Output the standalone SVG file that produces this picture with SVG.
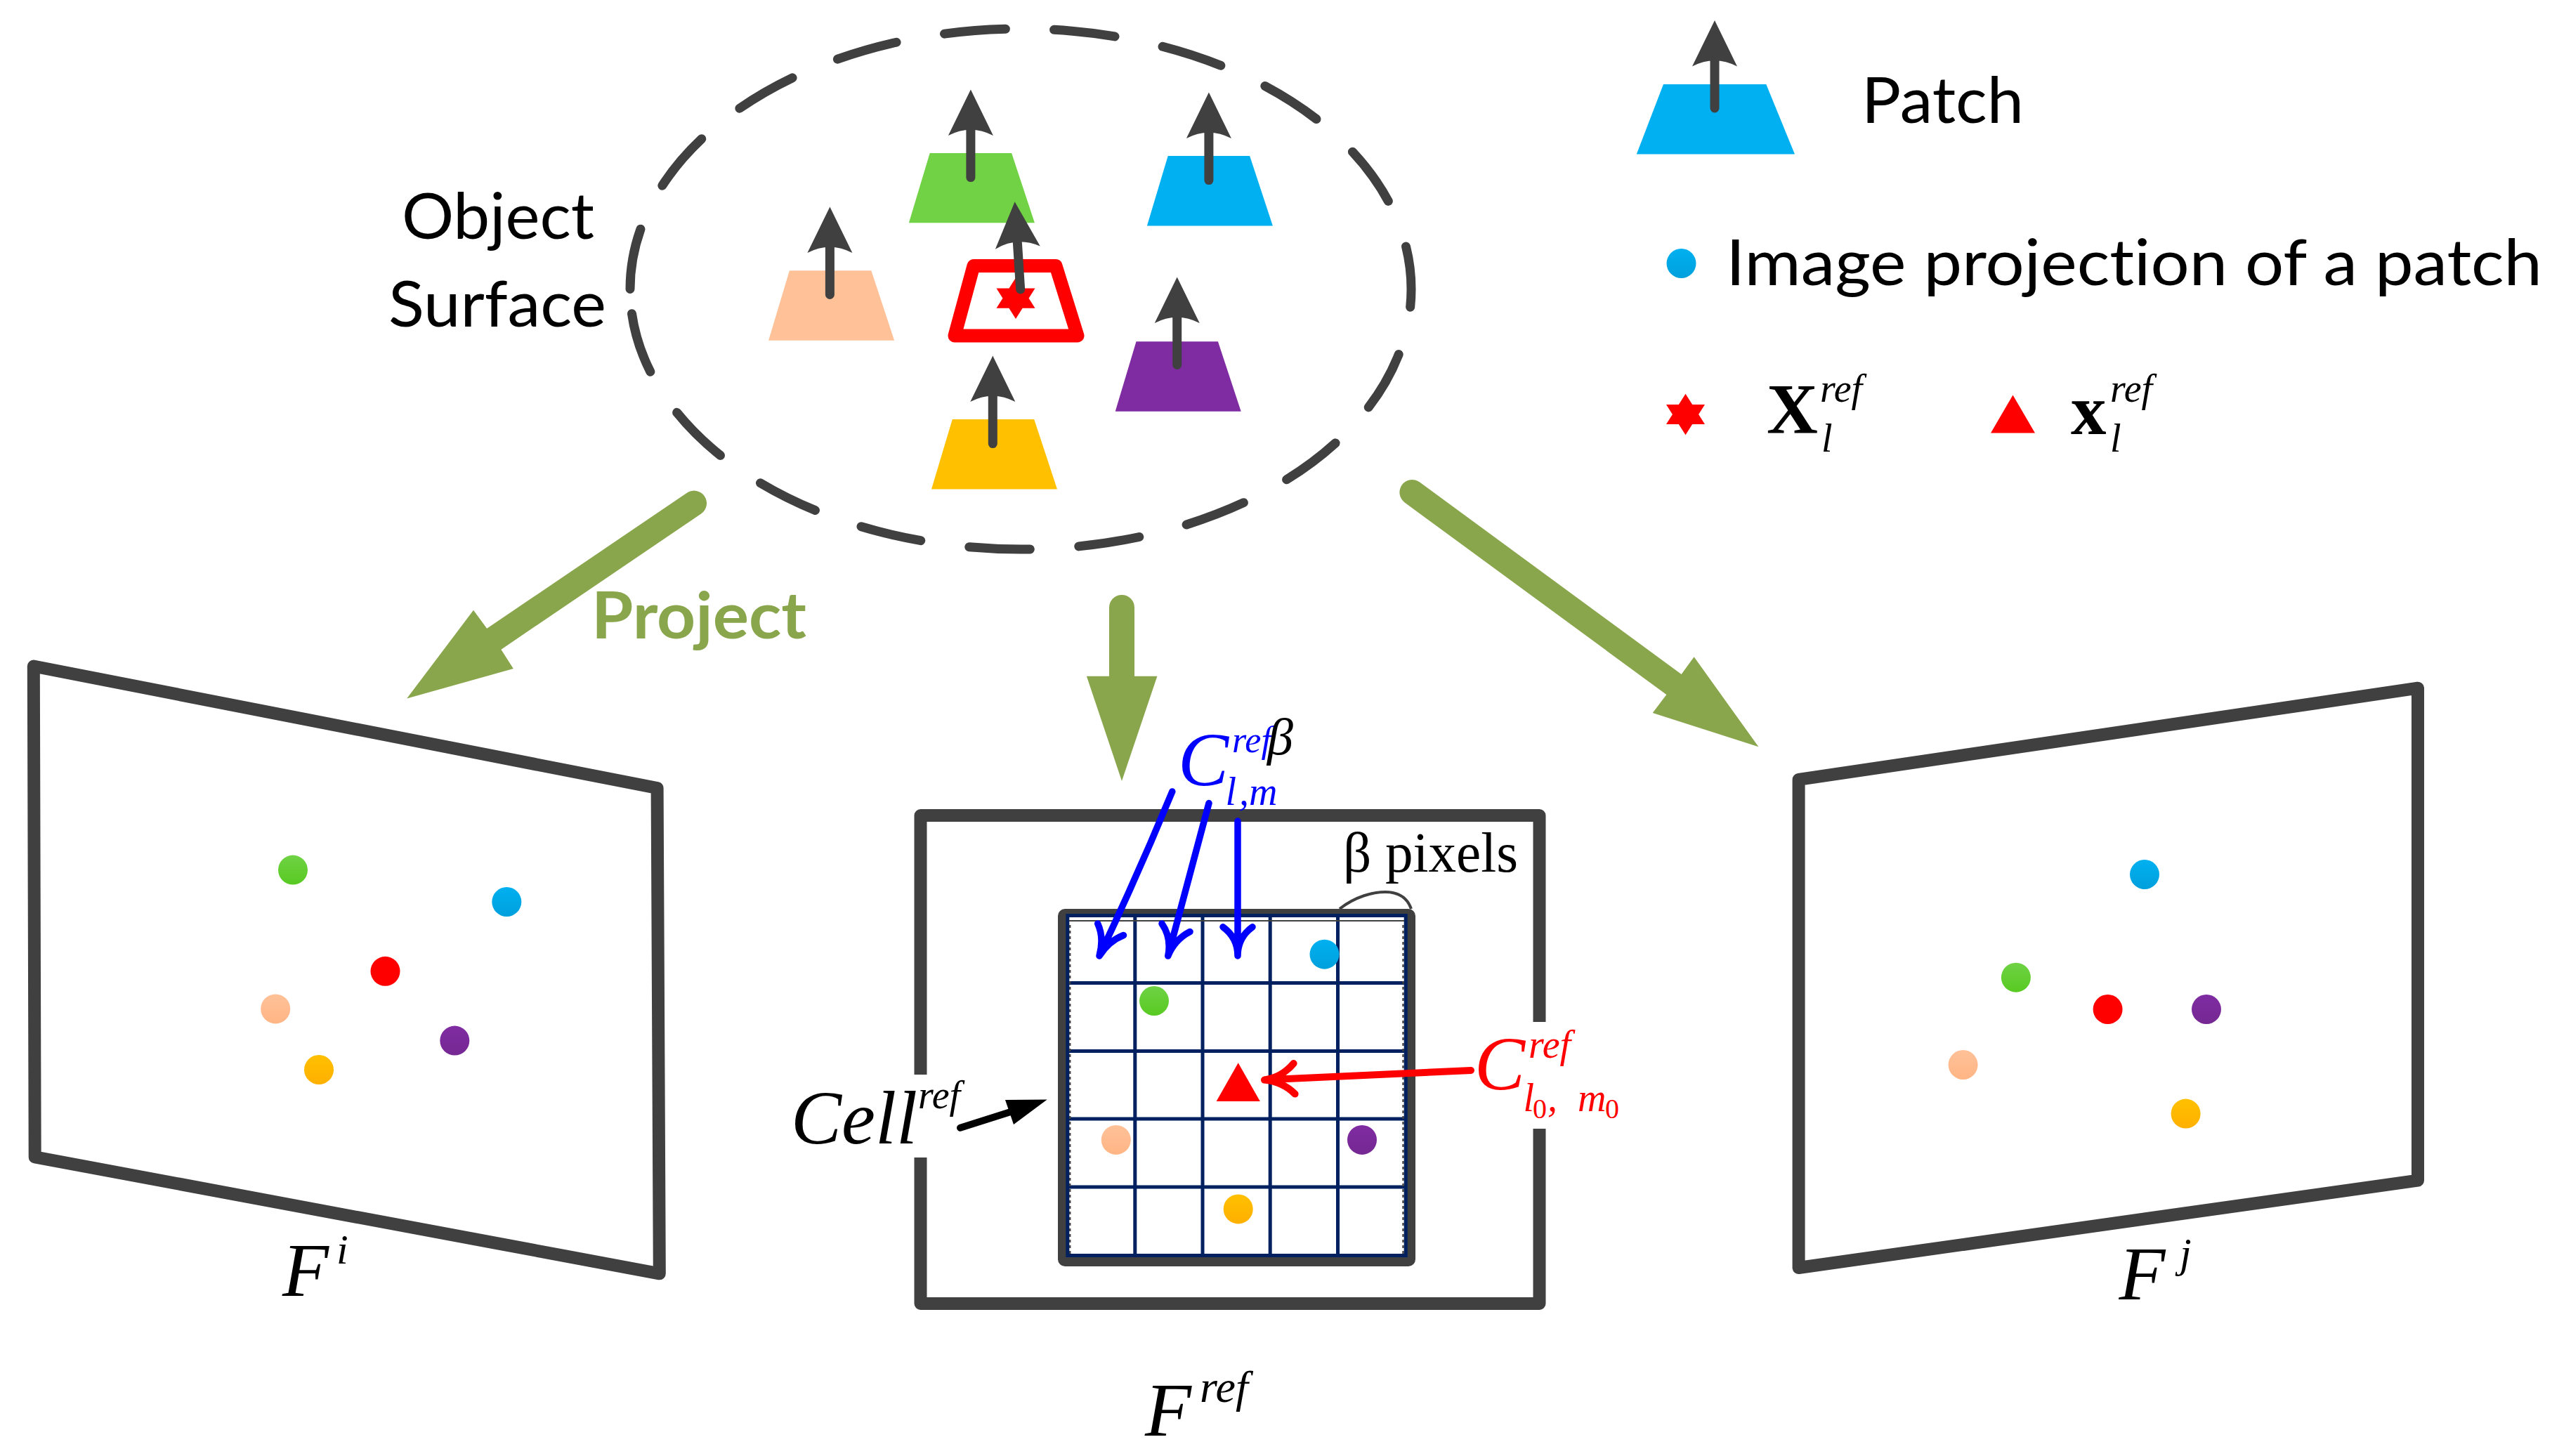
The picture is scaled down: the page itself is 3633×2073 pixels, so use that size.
<svg xmlns="http://www.w3.org/2000/svg" width="3633" height="2073" viewBox="0 0 3633 2073">
<style>
text{white-space:pre;font-variant-ligatures:none}
.cal{font-family:"Lato","Liberation Sans",sans-serif;font-size:92px;fill:#000}
.prj{font-family:"Lato","Liberation Sans",sans-serif;font-size:92px;font-weight:700;fill:#8AA64C}
.ti{font-family:"Liberation Serif",serif;font-style:italic}
.tr{font-family:"Liberation Serif",serif}
.big{font-size:108px}
.sup{font-size:56px}
.sub0{font-size:40px}
.tb{font-family:"Liberation Serif",serif;font-weight:700;font-size:101px}
.blue{fill:#0000FF}
.red{fill:#FF0000}
.frame{fill:none;stroke:#404040;stroke-width:18;stroke-linejoin:round;stroke-linecap:butt}
.grid{fill:none;stroke:#002060;stroke-width:5}
.edge{fill:none;stroke:#404040;stroke-width:2.4;stroke-dasharray:4 4}
.ell{fill:none;stroke:#404040;stroke-width:13;stroke-linecap:round;stroke-dasharray:87 69.5}
.proj{fill:none;stroke:#8AA64C;stroke-width:36;stroke-linecap:round}
.projh{fill:#8AA64C}
.ptr{fill:none;stroke-linecap:round;stroke-linejoin:round}
.pb{stroke:#0000FF;stroke-width:9.5}
.pr{stroke:#FF0000;stroke-width:10}
.c-g{fill:#70D244}.c-b{fill:#00B0F0}.c-p{fill:#FFC198}.c-v{fill:#7F2CA2}.c-y{fill:#FFC000}
.d-g{fill:url(#dg)}.d-b{fill:url(#db)}.d-p{fill:url(#dp)}.d-v{fill:url(#dv)}.d-y{fill:url(#dy)}.d-r{fill:#FF0000}
</style>
<defs>
<polygon id="trap" points="0,0 29.8,-99.4 146.2,-99.4 179,0"/>
<g id="normal">
<path d="M0 0L32 65.5Q0 49 -32 65.5Z" fill="#404040"/>
<line x1="0" y1="50" x2="0" y2="125" stroke="#404040" stroke-width="13" stroke-linecap="round"/>
</g>
<path id="star" d="M0 -29.3L27.5 14.1L-27.5 14.1ZM0 29.3L-27.5 -14.1L27.5 -14.1Z" fill="#FF0000"/>
<circle id="dot" r="21"/>
<linearGradient id="dg" x1="0" y1="0" x2="0" y2="1"><stop offset="0" stop-color="#6FD244"/><stop offset="1" stop-color="#58CA22"/></linearGradient>
<linearGradient id="db" x1="0" y1="0" x2="0" y2="1"><stop offset="0" stop-color="#00B0F0"/><stop offset="1" stop-color="#00A0DC"/></linearGradient>
<linearGradient id="dp" x1="0" y1="0" x2="0" y2="1"><stop offset="0" stop-color="#FFC198"/><stop offset="1" stop-color="#FFB585"/></linearGradient>
<linearGradient id="dv" x1="0" y1="0" x2="0" y2="1"><stop offset="0" stop-color="#7F2CA2"/><stop offset="1" stop-color="#752892"/></linearGradient>
<linearGradient id="dy" x1="0" y1="0" x2="0" y2="1"><stop offset="0" stop-color="#FFC000"/><stop offset="1" stop-color="#FFB000"/></linearGradient>
</defs>
<rect width="3633" height="2073" fill="#FFFFFF"/>

<g id="object-surface">
<path class="ell" d="M897 411.5A556 370.5 0 0 1 2009 411.5A556 370.5 0 0 1 897 411.5"/>
<text class="cal" x="572" y="339.5" textLength="274" lengthAdjust="spacingAndGlyphs">Object</text>
<text class="cal" x="553" y="464.5" textLength="310" lengthAdjust="spacingAndGlyphs">Surface</text>
</g>
<g id="patch-green"><use href="#trap" x="1293.9" y="317.3" class="c-g"/><use href="#normal" x="1381.9" y="127.6"/></g>
<g id="patch-blue"><use href="#trap" x="1632.9" y="321.4" class="c-b"/><use href="#normal" x="1720.9" y="131.6"/></g>
<g id="patch-peach"><use href="#trap" x="1094.1" y="484.7" class="c-p"/><use href="#normal" x="1181.4" y="294.4"/></g>
<g id="patch-purple"><use href="#trap" x="1587.7" y="585.7" class="c-v"/><use href="#normal" x="1675.7" y="394.4"/></g>
<g id="patch-yellow"><use href="#trap" x="1326" y="696.4" class="c-y"/><use href="#normal" x="1413.3" y="506.6"/></g>
<g id="patch-ref">
<polygon points="1386,378.6 1503,378.6 1534,478 1359,478" fill="none" stroke="#FF0000" stroke-width="19" stroke-linejoin="round"/>
<use href="#star" x="1446" y="424.7"/>
<use href="#normal" transform="translate(1444.6 287.2) rotate(-3.7)"/>
</g>

<g id="legend">
<polygon points="2368,120 2514.3,120 2555,219.6 2329.8,219.6" class="c-b"/>
<use href="#normal" x="2441" y="29"/>
<text class="cal" x="2650" y="175" textLength="231" lengthAdjust="spacingAndGlyphs">Patch</text>
<circle cx="2393.5" cy="375" r="21" class="d-b"/>
<text class="cal" x="2457" y="405.5" textLength="1162" lengthAdjust="spacingAndGlyphs">Image projection of a patch</text>
<use href="#star" x="2399.5" y="590"/>
<text class="tb" x="2515" y="617">X</text>
<text class="ti sup" x="2591" y="571.5">ref</text>
<text class="ti sup" x="2593" y="643">l</text>
<polygon points="2865.5,562.5 2897,616.5 2834,616.5" fill="#FF0000"/>
<text class="tb" x="2948" y="618">x</text>
<text class="ti sup" x="3004" y="571.5">ref</text>
<text class="ti sup" x="3004" y="643">l</text>
</g>

<g id="frame-i">
<polygon class="frame" points="47.8,948.5 935.6,1122 938.8,1813.3 49.7,1647.4"/>
<use href="#dot" x="417" y="1238.6" class="d-g"/>
<use href="#dot" x="721.3" y="1284" class="d-b"/>
<use href="#dot" x="548.5" y="1382.8" class="d-r"/>
<use href="#dot" x="392.2" y="1436.4" class="d-p"/>
<use href="#dot" x="647.3" y="1481.6" class="d-v"/>
<use href="#dot" x="454" y="1523" class="d-y"/>
<text class="ti big" x="402" y="1845">F</text>
<text class="ti" font-size="60" x="479" y="1799">i</text>
</g>

<g id="frame-j">
<polygon class="frame" points="2560.6,1109.8 3442,979.7 3442,1680.6 2560.6,1805"/>
<use href="#dot" x="3053" y="1245" class="d-b"/>
<use href="#dot" x="2869.9" y="1391.7" class="d-g"/>
<use href="#dot" x="3000.6" y="1437" class="d-r"/>
<use href="#dot" x="3141" y="1437" class="d-v"/>
<use href="#dot" x="2794.6" y="1516" class="d-p"/>
<use href="#dot" x="3111.6" y="1585.6" class="d-y"/>
<text class="ti big" x="3016.6" y="1849.6">F</text>
<text class="ti" font-size="60" x="3103" y="1804">j</text>
</g>

<g id="frame-ref">
<path class="frame" d="M1310.5 1530V1161H2191.5V1455M2191.5 1607V1856H1310.5V1648"/>
<text class="ti big" x="1630" y="2044">F</text>
<text class="ti" font-size="64" x="1708" y="1996">ref</text>
</g>

<g id="cell-grid">
<rect x="1506" y="1294" width="509" height="509" rx="10" fill="#404040"/>
<rect x="1519.8" y="1303.5" width="481.4" height="484" fill="#FFFFFF" stroke="#002060" stroke-width="5"/>
<path class="grid" d="M1615.8 1303V1787M1712 1303V1787M1808.2 1303V1787M1904.5 1303V1787M1520 1399.5H2001M1520 1496.6H2001M1520 1593H2001M1520 1690H2001"/>
<line x1="1522" y1="1311" x2="1999" y2="1311" stroke="#404040" stroke-width="2"/>
<path class="edge" d="M1523.2 1317V1785M1997.5 1317V1785"/>
<path d="M1907 1294C1930 1276 1955 1270 1972 1270C1993 1270 2004 1280 2009 1294" fill="none" stroke="#404040" stroke-width="4"/>
<text class="tr" font-size="80" x="1912" y="1241" textLength="249" lengthAdjust="spacingAndGlyphs">β pixels</text>
<use href="#dot" x="1885.5" y="1358.7" class="d-b"/>
<use href="#dot" x="1643" y="1425" class="d-g"/>
<use href="#dot" x="1588.8" y="1622.9" class="d-p"/>
<use href="#dot" x="1939" y="1622.9" class="d-v"/>
<use href="#dot" x="1762.7" y="1721.4" class="d-y"/>
<polygon points="1762.7,1513.3 1793.8,1568 1731.6,1568" fill="#FF0000"/>
</g>

<g id="label-cell">
<text class="ti big" x="1126" y="1628">Cell</text>
<text class="ti sup" x="1307" y="1578">ref</text>
</g>
<g id="label-c-blue">
<text class="ti big blue" x="1677" y="1118">C</text>
<text class="ti blue" font-size="52" x="1754" y="1070.5">ref</text>
<text class="ti" font-size="74" x="1804" y="1074">β</text>
<text class="ti sup blue" x="1744.5" y="1145.5">l</text>
<text class="ti sup blue" x="1764" y="1145.5">,</text>
<text class="ti sup blue" x="1778" y="1145.5">m</text>
</g>
<g id="label-c-red">
<text class="ti big red" x="2099" y="1551">C</text>
<text class="ti sup red" x="2176" y="1506">ref</text>
<text class="ti sup red" x="2168.5" y="1582">l</text>
<text class="tr sub0 red" x="2182" y="1592">0</text>
<text class="ti sup red" x="2203" y="1582">,</text>
<text class="ti sup red" x="2246" y="1582">m</text>
<text class="tr sub0 red" x="2285" y="1592">0</text>
</g>

<g id="connectors">
<line class="proj" x1="988" y1="716.6" x2="703" y2="910"/>
<polygon class="projh" points="579.2,994.5 674,868.8 692.9,894.6 713.5,925 730.8,952"/>
<line class="proj" x1="1597" y1="865" x2="1597" y2="970"/>
<polygon class="projh" points="1597,1112 1546.9,962.8 1647.4,962.8"/>
<line class="proj" x1="2010.4" y1="701" x2="2383" y2="974.5"/>
<polygon class="projh" points="2503.4,1063.3 2411.6,935.3 2394,959.4 2372,989.6 2352.7,1015"/>
<path class="ptr pb" d="M1668.8 1127Q1620 1245 1565 1361M1562.7 1315Q1572 1335 1565 1361Q1578 1340 1599.5 1331.5"/>
<path class="ptr pb" d="M1721 1143.6L1662.8 1361M1654 1315Q1668 1335 1662.8 1361Q1672 1338 1694 1326.5"/>
<path class="ptr pb" d="M1762 1169V1361M1741 1319.8Q1762 1335 1762 1361Q1762 1335 1783 1319.8"/>
<path class="ptr pr" d="M2094 1524L1800 1537.5M1841.6 1514Q1825 1534 1800 1537.5Q1826 1540 1843.6 1557.6"/>
<line x1="1367" y1="1605.8" x2="1445" y2="1581" stroke="#000" stroke-width="10" stroke-linecap="round"/>
<polygon points="1490.7,1565.4 1443,1601 1431,1566" fill="#000"/>
</g>

<text class="prj" x="842" y="909" textLength="306" lengthAdjust="spacingAndGlyphs">Project</text>
</svg>
